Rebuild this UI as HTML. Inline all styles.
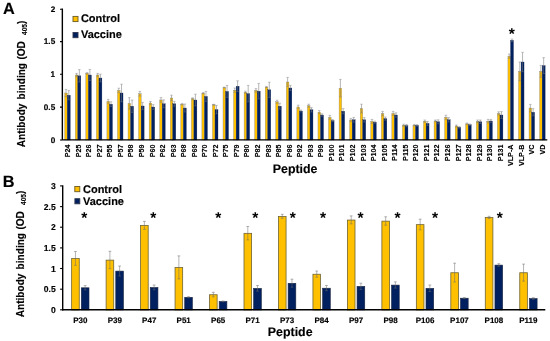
<!DOCTYPE html>
<html><head><meta charset="utf-8"><title>Figure</title>
<style>html,body{margin:0;padding:0;background:#fff}svg{display:block}text{font-family:'Liberation Sans',Arial,sans-serif;font-weight:bold;fill:#000;stroke:#000;stroke-width:0.15px}</style></head><body>
<svg width="550" height="341" viewBox="0 0 550 341">
<rect width="550" height="341" fill="#fff"/>
<g id="chartA">
<rect x="64.70" y="93.00" width="2.60" height="47.00" fill="#FFC000" stroke="#808080" stroke-width="0.35"/>
<rect x="67.30" y="95.20" width="2.95" height="44.80" fill="#002060" stroke="#1a2a50" stroke-width="0.3"/>
<path d="M66.00 89.40V96.60" stroke="#7a7a7a" stroke-width="1.0" stroke-opacity="0.55" fill="none"/><path d="M64.70 89.40h2.6M64.70 96.60h2.6" stroke="#7a7a7a" stroke-width="0.6" stroke-opacity="0.7" fill="none"/>
<path d="M68.77 90.60V99.80" stroke="#7a7a7a" stroke-width="1.0" stroke-opacity="0.55" fill="none"/><path d="M67.47 90.60h2.6M67.47 99.80h2.6" stroke="#7a7a7a" stroke-width="0.6" stroke-opacity="0.7" fill="none"/>
<text transform="translate(70.08 144.5) rotate(-90)" text-anchor="end" font-size="7.2">P24</text>
<rect x="75.25" y="75.00" width="2.60" height="65.00" fill="#FFC000" stroke="#808080" stroke-width="0.35"/>
<rect x="77.85" y="75.80" width="2.95" height="64.20" fill="#002060" stroke="#1a2a50" stroke-width="0.3"/>
<path d="M76.55 73.40V76.60" stroke="#7a7a7a" stroke-width="1.0" stroke-opacity="0.55" fill="none"/><path d="M75.25 73.40h2.6M75.25 76.60h2.6" stroke="#7a7a7a" stroke-width="0.6" stroke-opacity="0.7" fill="none"/>
<path d="M79.33 69.60V82.00" stroke="#7a7a7a" stroke-width="1.0" stroke-opacity="0.55" fill="none"/><path d="M78.03 69.60h2.6M78.03 82.00h2.6" stroke="#7a7a7a" stroke-width="0.6" stroke-opacity="0.7" fill="none"/>
<text transform="translate(80.63 144.5) rotate(-90)" text-anchor="end" font-size="7.2">P25</text>
<rect x="85.81" y="73.40" width="2.60" height="66.60" fill="#FFC000" stroke="#808080" stroke-width="0.35"/>
<rect x="88.41" y="75.00" width="2.95" height="65.00" fill="#002060" stroke="#1a2a50" stroke-width="0.3"/>
<path d="M87.11 72.60V74.20" stroke="#7a7a7a" stroke-width="1.0" stroke-opacity="0.55" fill="none"/><path d="M85.81 72.60h2.6M85.81 74.20h2.6" stroke="#7a7a7a" stroke-width="0.6" stroke-opacity="0.7" fill="none"/>
<path d="M89.88 69.40V80.60" stroke="#7a7a7a" stroke-width="1.0" stroke-opacity="0.55" fill="none"/><path d="M88.58 69.40h2.6M88.58 80.60h2.6" stroke="#7a7a7a" stroke-width="0.6" stroke-opacity="0.7" fill="none"/>
<text transform="translate(91.18 144.5) rotate(-90)" text-anchor="end" font-size="7.2">P26</text>
<rect x="96.36" y="75.00" width="2.60" height="65.00" fill="#FFC000" stroke="#808080" stroke-width="0.35"/>
<rect x="98.96" y="78.00" width="2.95" height="62.00" fill="#002060" stroke="#1a2a50" stroke-width="0.3"/>
<path d="M97.66 73.40V76.60" stroke="#7a7a7a" stroke-width="1.0" stroke-opacity="0.55" fill="none"/><path d="M96.36 73.40h2.6M96.36 76.60h2.6" stroke="#7a7a7a" stroke-width="0.6" stroke-opacity="0.7" fill="none"/>
<path d="M100.43 74.20V81.80" stroke="#7a7a7a" stroke-width="1.0" stroke-opacity="0.55" fill="none"/><path d="M99.13 74.20h2.6M99.13 81.80h2.6" stroke="#7a7a7a" stroke-width="0.6" stroke-opacity="0.7" fill="none"/>
<text transform="translate(101.73 144.5) rotate(-90)" text-anchor="end" font-size="7.2">P27</text>
<rect x="106.91" y="101.40" width="2.60" height="38.60" fill="#FFC000" stroke="#808080" stroke-width="0.35"/>
<rect x="109.51" y="104.20" width="2.95" height="35.80" fill="#002060" stroke="#1a2a50" stroke-width="0.3"/>
<path d="M108.21 99.40V103.40" stroke="#7a7a7a" stroke-width="1.0" stroke-opacity="0.55" fill="none"/><path d="M106.91 99.40h2.6M106.91 103.40h2.6" stroke="#7a7a7a" stroke-width="0.6" stroke-opacity="0.7" fill="none"/>
<path d="M110.99 101.80V106.60" stroke="#7a7a7a" stroke-width="1.0" stroke-opacity="0.55" fill="none"/><path d="M109.69 101.80h2.6M109.69 106.60h2.6" stroke="#7a7a7a" stroke-width="0.6" stroke-opacity="0.7" fill="none"/>
<text transform="translate(112.29 144.5) rotate(-90)" text-anchor="end" font-size="7.2">P55</text>
<rect x="117.47" y="90.40" width="2.60" height="49.60" fill="#FFC000" stroke="#808080" stroke-width="0.35"/>
<rect x="120.06" y="93.00" width="2.95" height="47.00" fill="#002060" stroke="#1a2a50" stroke-width="0.3"/>
<path d="M118.77 88.20V92.60" stroke="#7a7a7a" stroke-width="1.0" stroke-opacity="0.55" fill="none"/><path d="M117.47 88.20h2.6M117.47 92.60h2.6" stroke="#7a7a7a" stroke-width="0.6" stroke-opacity="0.7" fill="none"/>
<path d="M121.54 84.20V101.80" stroke="#7a7a7a" stroke-width="1.0" stroke-opacity="0.55" fill="none"/><path d="M120.24 84.20h2.6M120.24 101.80h2.6" stroke="#7a7a7a" stroke-width="0.6" stroke-opacity="0.7" fill="none"/>
<text transform="translate(122.84 144.5) rotate(-90)" text-anchor="end" font-size="7.2">P57</text>
<rect x="128.02" y="103.40" width="2.60" height="36.60" fill="#FFC000" stroke="#808080" stroke-width="0.35"/>
<rect x="130.62" y="106.20" width="2.95" height="33.80" fill="#002060" stroke="#1a2a50" stroke-width="0.3"/>
<path d="M129.32 97.60V109.20" stroke="#7a7a7a" stroke-width="1.0" stroke-opacity="0.55" fill="none"/><path d="M128.02 97.60h2.6M128.02 109.20h2.6" stroke="#7a7a7a" stroke-width="0.6" stroke-opacity="0.7" fill="none"/>
<path d="M132.09 100.00V112.40" stroke="#7a7a7a" stroke-width="1.0" stroke-opacity="0.55" fill="none"/><path d="M130.79 100.00h2.6M130.79 112.40h2.6" stroke="#7a7a7a" stroke-width="0.6" stroke-opacity="0.7" fill="none"/>
<text transform="translate(133.39 144.5) rotate(-90)" text-anchor="end" font-size="7.2">P58</text>
<rect x="138.57" y="93.80" width="2.60" height="46.20" fill="#FFC000" stroke="#808080" stroke-width="0.35"/>
<rect x="141.17" y="106.00" width="2.95" height="34.00" fill="#002060" stroke="#1a2a50" stroke-width="0.3"/>
<path d="M139.87 91.40V96.20" stroke="#7a7a7a" stroke-width="1.0" stroke-opacity="0.55" fill="none"/><path d="M138.57 91.40h2.6M138.57 96.20h2.6" stroke="#7a7a7a" stroke-width="0.6" stroke-opacity="0.7" fill="none"/>
<path d="M142.65 102.40V109.60" stroke="#7a7a7a" stroke-width="1.0" stroke-opacity="0.55" fill="none"/><path d="M141.35 102.40h2.6M141.35 109.60h2.6" stroke="#7a7a7a" stroke-width="0.6" stroke-opacity="0.7" fill="none"/>
<text transform="translate(143.95 144.5) rotate(-90)" text-anchor="end" font-size="7.2">P59</text>
<rect x="149.12" y="103.00" width="2.60" height="37.00" fill="#FFC000" stroke="#808080" stroke-width="0.35"/>
<rect x="151.72" y="107.00" width="2.95" height="33.00" fill="#002060" stroke="#1a2a50" stroke-width="0.3"/>
<path d="M150.42 101.40V104.60" stroke="#7a7a7a" stroke-width="1.0" stroke-opacity="0.55" fill="none"/><path d="M149.12 101.40h2.6M149.12 104.60h2.6" stroke="#7a7a7a" stroke-width="0.6" stroke-opacity="0.7" fill="none"/>
<path d="M153.20 104.60V109.40" stroke="#7a7a7a" stroke-width="1.0" stroke-opacity="0.55" fill="none"/><path d="M151.90 104.60h2.6M151.90 109.40h2.6" stroke="#7a7a7a" stroke-width="0.6" stroke-opacity="0.7" fill="none"/>
<text transform="translate(154.50 144.5) rotate(-90)" text-anchor="end" font-size="7.2">P60</text>
<rect x="159.68" y="100.00" width="2.60" height="40.00" fill="#FFC000" stroke="#808080" stroke-width="0.35"/>
<rect x="162.28" y="103.80" width="2.95" height="36.20" fill="#002060" stroke="#1a2a50" stroke-width="0.3"/>
<path d="M160.98 97.60V102.40" stroke="#7a7a7a" stroke-width="1.0" stroke-opacity="0.55" fill="none"/><path d="M159.68 97.60h2.6M159.68 102.40h2.6" stroke="#7a7a7a" stroke-width="0.6" stroke-opacity="0.7" fill="none"/>
<path d="M163.75 99.80V107.80" stroke="#7a7a7a" stroke-width="1.0" stroke-opacity="0.55" fill="none"/><path d="M162.45 99.80h2.6M162.45 107.80h2.6" stroke="#7a7a7a" stroke-width="0.6" stroke-opacity="0.7" fill="none"/>
<text transform="translate(165.05 144.5) rotate(-90)" text-anchor="end" font-size="7.2">P62</text>
<rect x="170.23" y="98.00" width="2.60" height="42.00" fill="#FFC000" stroke="#808080" stroke-width="0.35"/>
<rect x="172.83" y="103.80" width="2.95" height="36.20" fill="#002060" stroke="#1a2a50" stroke-width="0.3"/>
<path d="M171.53 95.20V100.80" stroke="#7a7a7a" stroke-width="1.0" stroke-opacity="0.55" fill="none"/><path d="M170.23 95.20h2.6M170.23 100.80h2.6" stroke="#7a7a7a" stroke-width="0.6" stroke-opacity="0.7" fill="none"/>
<path d="M174.31 101.40V106.20" stroke="#7a7a7a" stroke-width="1.0" stroke-opacity="0.55" fill="none"/><path d="M173.00 101.40h2.6M173.00 106.20h2.6" stroke="#7a7a7a" stroke-width="0.6" stroke-opacity="0.7" fill="none"/>
<text transform="translate(175.61 144.5) rotate(-90)" text-anchor="end" font-size="7.2">P63</text>
<rect x="180.78" y="104.20" width="2.60" height="35.80" fill="#FFC000" stroke="#808080" stroke-width="0.35"/>
<rect x="183.38" y="108.00" width="2.95" height="32.00" fill="#002060" stroke="#1a2a50" stroke-width="0.3"/>
<path d="M182.08 103.40V105.00" stroke="#7a7a7a" stroke-width="1.0" stroke-opacity="0.55" fill="none"/><path d="M180.78 103.40h2.6M180.78 105.00h2.6" stroke="#7a7a7a" stroke-width="0.6" stroke-opacity="0.7" fill="none"/>
<path d="M184.86 104.00V112.00" stroke="#7a7a7a" stroke-width="1.0" stroke-opacity="0.55" fill="none"/><path d="M183.56 104.00h2.6M183.56 112.00h2.6" stroke="#7a7a7a" stroke-width="0.6" stroke-opacity="0.7" fill="none"/>
<text transform="translate(186.16 144.5) rotate(-90)" text-anchor="end" font-size="7.2">P68</text>
<rect x="191.34" y="98.80" width="2.60" height="41.20" fill="#FFC000" stroke="#808080" stroke-width="0.35"/>
<rect x="193.94" y="100.00" width="2.95" height="40.00" fill="#002060" stroke="#1a2a50" stroke-width="0.3"/>
<path d="M192.64 97.80V99.80" stroke="#7a7a7a" stroke-width="1.0" stroke-opacity="0.55" fill="none"/><path d="M191.34 97.80h2.6M191.34 99.80h2.6" stroke="#7a7a7a" stroke-width="0.6" stroke-opacity="0.7" fill="none"/>
<path d="M195.41 94.20V105.80" stroke="#7a7a7a" stroke-width="1.0" stroke-opacity="0.55" fill="none"/><path d="M194.11 94.20h2.6M194.11 105.80h2.6" stroke="#7a7a7a" stroke-width="0.6" stroke-opacity="0.7" fill="none"/>
<text transform="translate(196.71 144.5) rotate(-90)" text-anchor="end" font-size="7.2">P69</text>
<rect x="201.89" y="93.20" width="2.60" height="46.80" fill="#FFC000" stroke="#808080" stroke-width="0.35"/>
<rect x="204.49" y="96.40" width="2.95" height="43.60" fill="#002060" stroke="#1a2a50" stroke-width="0.3"/>
<path d="M203.19 92.50V93.90" stroke="#7a7a7a" stroke-width="1.0" stroke-opacity="0.55" fill="none"/><path d="M201.89 92.50h2.6M201.89 93.90h2.6" stroke="#7a7a7a" stroke-width="0.6" stroke-opacity="0.7" fill="none"/>
<path d="M205.96 91.40V101.40" stroke="#7a7a7a" stroke-width="1.0" stroke-opacity="0.55" fill="none"/><path d="M204.66 91.40h2.6M204.66 101.40h2.6" stroke="#7a7a7a" stroke-width="0.6" stroke-opacity="0.7" fill="none"/>
<text transform="translate(207.26 144.5) rotate(-90)" text-anchor="end" font-size="7.2">P70</text>
<rect x="212.44" y="104.80" width="2.60" height="35.20" fill="#FFC000" stroke="#808080" stroke-width="0.35"/>
<rect x="215.04" y="109.60" width="2.95" height="30.40" fill="#002060" stroke="#1a2a50" stroke-width="0.3"/>
<path d="M213.74 104.30V105.30" stroke="#7a7a7a" stroke-width="1.0" stroke-opacity="0.55" fill="none"/><path d="M212.44 104.30h2.6M212.44 105.30h2.6" stroke="#7a7a7a" stroke-width="0.6" stroke-opacity="0.7" fill="none"/>
<path d="M216.52 105.40V113.80" stroke="#7a7a7a" stroke-width="1.0" stroke-opacity="0.55" fill="none"/><path d="M215.22 105.40h2.6M215.22 113.80h2.6" stroke="#7a7a7a" stroke-width="0.6" stroke-opacity="0.7" fill="none"/>
<text transform="translate(217.82 144.5) rotate(-90)" text-anchor="end" font-size="7.2">P72</text>
<rect x="223.00" y="87.60" width="2.60" height="52.40" fill="#FFC000" stroke="#808080" stroke-width="0.35"/>
<rect x="225.59" y="91.40" width="2.95" height="48.60" fill="#002060" stroke="#1a2a50" stroke-width="0.3"/>
<path d="M224.30 87.20V88.00" stroke="#7a7a7a" stroke-width="1.0" stroke-opacity="0.55" fill="none"/><path d="M223.00 87.20h2.6M223.00 88.00h2.6" stroke="#7a7a7a" stroke-width="0.6" stroke-opacity="0.7" fill="none"/>
<path d="M227.07 85.40V97.40" stroke="#7a7a7a" stroke-width="1.0" stroke-opacity="0.55" fill="none"/><path d="M225.77 85.40h2.6M225.77 97.40h2.6" stroke="#7a7a7a" stroke-width="0.6" stroke-opacity="0.7" fill="none"/>
<text transform="translate(228.37 144.5) rotate(-90)" text-anchor="end" font-size="7.2">P75</text>
<rect x="233.55" y="90.20" width="2.60" height="49.80" fill="#FFC000" stroke="#808080" stroke-width="0.35"/>
<rect x="236.15" y="86.20" width="2.95" height="53.80" fill="#002060" stroke="#1a2a50" stroke-width="0.3"/>
<path d="M234.85 88.00V92.40" stroke="#7a7a7a" stroke-width="1.0" stroke-opacity="0.55" fill="none"/><path d="M233.55 88.00h2.6M233.55 92.40h2.6" stroke="#7a7a7a" stroke-width="0.6" stroke-opacity="0.7" fill="none"/>
<path d="M237.62 80.80V91.60" stroke="#7a7a7a" stroke-width="1.0" stroke-opacity="0.55" fill="none"/><path d="M236.32 80.80h2.6M236.32 91.60h2.6" stroke="#7a7a7a" stroke-width="0.6" stroke-opacity="0.7" fill="none"/>
<text transform="translate(238.92 144.5) rotate(-90)" text-anchor="end" font-size="7.2">P79</text>
<rect x="244.10" y="92.20" width="2.60" height="47.80" fill="#FFC000" stroke="#808080" stroke-width="0.35"/>
<rect x="246.70" y="93.60" width="2.95" height="46.40" fill="#002060" stroke="#1a2a50" stroke-width="0.3"/>
<path d="M245.40 91.20V93.20" stroke="#7a7a7a" stroke-width="1.0" stroke-opacity="0.55" fill="none"/><path d="M244.10 91.20h2.6M244.10 93.20h2.6" stroke="#7a7a7a" stroke-width="0.6" stroke-opacity="0.7" fill="none"/>
<path d="M248.18 85.40V101.80" stroke="#7a7a7a" stroke-width="1.0" stroke-opacity="0.55" fill="none"/><path d="M246.88 85.40h2.6M246.88 101.80h2.6" stroke="#7a7a7a" stroke-width="0.6" stroke-opacity="0.7" fill="none"/>
<text transform="translate(249.48 144.5) rotate(-90)" text-anchor="end" font-size="7.2">P80</text>
<rect x="254.65" y="90.40" width="2.60" height="49.60" fill="#FFC000" stroke="#808080" stroke-width="0.35"/>
<rect x="257.25" y="91.20" width="2.95" height="48.80" fill="#002060" stroke="#1a2a50" stroke-width="0.3"/>
<path d="M255.95 88.60V92.20" stroke="#7a7a7a" stroke-width="1.0" stroke-opacity="0.55" fill="none"/><path d="M254.65 88.60h2.6M254.65 92.20h2.6" stroke="#7a7a7a" stroke-width="0.6" stroke-opacity="0.7" fill="none"/>
<path d="M258.73 83.40V99.00" stroke="#7a7a7a" stroke-width="1.0" stroke-opacity="0.55" fill="none"/><path d="M257.43 83.40h2.6M257.43 99.00h2.6" stroke="#7a7a7a" stroke-width="0.6" stroke-opacity="0.7" fill="none"/>
<text transform="translate(260.03 144.5) rotate(-90)" text-anchor="end" font-size="7.2">P82</text>
<rect x="265.21" y="87.00" width="2.60" height="53.00" fill="#FFC000" stroke="#808080" stroke-width="0.35"/>
<rect x="267.81" y="89.80" width="2.95" height="50.20" fill="#002060" stroke="#1a2a50" stroke-width="0.3"/>
<path d="M266.51 86.40V87.60" stroke="#7a7a7a" stroke-width="1.0" stroke-opacity="0.55" fill="none"/><path d="M265.21 86.40h2.6M265.21 87.60h2.6" stroke="#7a7a7a" stroke-width="0.6" stroke-opacity="0.7" fill="none"/>
<path d="M269.28 82.20V97.40" stroke="#7a7a7a" stroke-width="1.0" stroke-opacity="0.55" fill="none"/><path d="M267.98 82.20h2.6M267.98 97.40h2.6" stroke="#7a7a7a" stroke-width="0.6" stroke-opacity="0.7" fill="none"/>
<text transform="translate(270.58 144.5) rotate(-90)" text-anchor="end" font-size="7.2">P83</text>
<rect x="275.76" y="101.80" width="2.60" height="38.20" fill="#FFC000" stroke="#808080" stroke-width="0.35"/>
<rect x="278.36" y="106.20" width="2.95" height="33.80" fill="#002060" stroke="#1a2a50" stroke-width="0.3"/>
<path d="M277.06 100.20V103.40" stroke="#7a7a7a" stroke-width="1.0" stroke-opacity="0.55" fill="none"/><path d="M275.76 100.20h2.6M275.76 103.40h2.6" stroke="#7a7a7a" stroke-width="0.6" stroke-opacity="0.7" fill="none"/>
<path d="M279.84 103.20V109.20" stroke="#7a7a7a" stroke-width="1.0" stroke-opacity="0.55" fill="none"/><path d="M278.54 103.20h2.6M278.54 109.20h2.6" stroke="#7a7a7a" stroke-width="0.6" stroke-opacity="0.7" fill="none"/>
<text transform="translate(281.13 144.5) rotate(-90)" text-anchor="end" font-size="7.2">P85</text>
<rect x="286.31" y="82.00" width="2.60" height="58.00" fill="#FFC000" stroke="#808080" stroke-width="0.35"/>
<rect x="288.91" y="88.00" width="2.95" height="52.00" fill="#002060" stroke="#1a2a50" stroke-width="0.3"/>
<path d="M287.61 77.40V86.60" stroke="#7a7a7a" stroke-width="1.0" stroke-opacity="0.55" fill="none"/><path d="M286.31 77.40h2.6M286.31 86.60h2.6" stroke="#7a7a7a" stroke-width="0.6" stroke-opacity="0.7" fill="none"/>
<path d="M290.39 85.40V90.60" stroke="#7a7a7a" stroke-width="1.0" stroke-opacity="0.55" fill="none"/><path d="M289.09 85.40h2.6M289.09 90.60h2.6" stroke="#7a7a7a" stroke-width="0.6" stroke-opacity="0.7" fill="none"/>
<text transform="translate(291.69 144.5) rotate(-90)" text-anchor="end" font-size="7.2">P86</text>
<rect x="296.87" y="107.00" width="2.60" height="33.00" fill="#FFC000" stroke="#808080" stroke-width="0.35"/>
<rect x="299.47" y="111.00" width="2.95" height="29.00" fill="#002060" stroke="#1a2a50" stroke-width="0.3"/>
<path d="M298.17 105.20V108.80" stroke="#7a7a7a" stroke-width="1.0" stroke-opacity="0.55" fill="none"/><path d="M296.87 105.20h2.6M296.87 108.80h2.6" stroke="#7a7a7a" stroke-width="0.6" stroke-opacity="0.7" fill="none"/>
<path d="M300.94 110.00V112.00" stroke="#7a7a7a" stroke-width="1.0" stroke-opacity="0.55" fill="none"/><path d="M299.64 110.00h2.6M299.64 112.00h2.6" stroke="#7a7a7a" stroke-width="0.6" stroke-opacity="0.7" fill="none"/>
<text transform="translate(302.24 144.5) rotate(-90)" text-anchor="end" font-size="7.2">P92</text>
<rect x="307.42" y="105.80" width="2.60" height="34.20" fill="#FFC000" stroke="#808080" stroke-width="0.35"/>
<rect x="310.02" y="109.80" width="2.95" height="30.20" fill="#002060" stroke="#1a2a50" stroke-width="0.3"/>
<path d="M308.72 104.20V107.40" stroke="#7a7a7a" stroke-width="1.0" stroke-opacity="0.55" fill="none"/><path d="M307.42 104.20h2.6M307.42 107.40h2.6" stroke="#7a7a7a" stroke-width="0.6" stroke-opacity="0.7" fill="none"/>
<path d="M311.49 107.60V112.00" stroke="#7a7a7a" stroke-width="1.0" stroke-opacity="0.55" fill="none"/><path d="M310.19 107.60h2.6M310.19 112.00h2.6" stroke="#7a7a7a" stroke-width="0.6" stroke-opacity="0.7" fill="none"/>
<text transform="translate(312.79 144.5) rotate(-90)" text-anchor="end" font-size="7.2">P93</text>
<rect x="317.97" y="112.20" width="2.60" height="27.80" fill="#FFC000" stroke="#808080" stroke-width="0.35"/>
<rect x="320.57" y="115.00" width="2.95" height="25.00" fill="#002060" stroke="#1a2a50" stroke-width="0.3"/>
<path d="M319.27 110.60V113.80" stroke="#7a7a7a" stroke-width="1.0" stroke-opacity="0.55" fill="none"/><path d="M317.97 110.60h2.6M317.97 113.80h2.6" stroke="#7a7a7a" stroke-width="0.6" stroke-opacity="0.7" fill="none"/>
<path d="M322.05 113.80V116.20" stroke="#7a7a7a" stroke-width="1.0" stroke-opacity="0.55" fill="none"/><path d="M320.75 113.80h2.6M320.75 116.20h2.6" stroke="#7a7a7a" stroke-width="0.6" stroke-opacity="0.7" fill="none"/>
<text transform="translate(323.35 144.5) rotate(-90)" text-anchor="end" font-size="7.2">P99</text>
<rect x="328.53" y="117.40" width="2.60" height="22.60" fill="#FFC000" stroke="#808080" stroke-width="0.35"/>
<rect x="331.13" y="120.60" width="2.95" height="19.40" fill="#002060" stroke="#1a2a50" stroke-width="0.3"/>
<path d="M329.83 115.40V119.40" stroke="#7a7a7a" stroke-width="1.0" stroke-opacity="0.55" fill="none"/><path d="M328.53 115.40h2.6M328.53 119.40h2.6" stroke="#7a7a7a" stroke-width="0.6" stroke-opacity="0.7" fill="none"/>
<path d="M332.60 119.60V121.60" stroke="#7a7a7a" stroke-width="1.0" stroke-opacity="0.55" fill="none"/><path d="M331.30 119.60h2.6M331.30 121.60h2.6" stroke="#7a7a7a" stroke-width="0.6" stroke-opacity="0.7" fill="none"/>
<text transform="translate(333.90 144.5) rotate(-90)" text-anchor="end" font-size="7.2">P100</text>
<rect x="339.08" y="88.20" width="2.60" height="51.80" fill="#FFC000" stroke="#808080" stroke-width="0.35"/>
<rect x="341.68" y="111.20" width="2.95" height="28.80" fill="#002060" stroke="#1a2a50" stroke-width="0.3"/>
<path d="M340.38 79.40V97.00" stroke="#7a7a7a" stroke-width="1.0" stroke-opacity="0.55" fill="none"/><path d="M339.08 79.40h2.6M339.08 97.00h2.6" stroke="#7a7a7a" stroke-width="0.6" stroke-opacity="0.7" fill="none"/>
<path d="M343.15 108.60V113.80" stroke="#7a7a7a" stroke-width="1.0" stroke-opacity="0.55" fill="none"/><path d="M341.85 108.60h2.6M341.85 113.80h2.6" stroke="#7a7a7a" stroke-width="0.6" stroke-opacity="0.7" fill="none"/>
<text transform="translate(344.45 144.5) rotate(-90)" text-anchor="end" font-size="7.2">P101</text>
<rect x="349.63" y="120.00" width="2.60" height="20.00" fill="#FFC000" stroke="#808080" stroke-width="0.35"/>
<rect x="352.23" y="119.80" width="2.95" height="20.20" fill="#002060" stroke="#1a2a50" stroke-width="0.3"/>
<path d="M350.93 118.40V121.60" stroke="#7a7a7a" stroke-width="1.0" stroke-opacity="0.55" fill="none"/><path d="M349.63 118.40h2.6M349.63 121.60h2.6" stroke="#7a7a7a" stroke-width="0.6" stroke-opacity="0.7" fill="none"/>
<path d="M353.71 117.40V122.20" stroke="#7a7a7a" stroke-width="1.0" stroke-opacity="0.55" fill="none"/><path d="M352.41 117.40h2.6M352.41 122.20h2.6" stroke="#7a7a7a" stroke-width="0.6" stroke-opacity="0.7" fill="none"/>
<text transform="translate(355.01 144.5) rotate(-90)" text-anchor="end" font-size="7.2">P102</text>
<rect x="360.18" y="108.60" width="2.60" height="31.40" fill="#FFC000" stroke="#808080" stroke-width="0.35"/>
<rect x="362.78" y="119.80" width="2.95" height="20.20" fill="#002060" stroke="#1a2a50" stroke-width="0.3"/>
<path d="M361.48 104.20V113.00" stroke="#7a7a7a" stroke-width="1.0" stroke-opacity="0.55" fill="none"/><path d="M360.18 104.20h2.6M360.18 113.00h2.6" stroke="#7a7a7a" stroke-width="0.6" stroke-opacity="0.7" fill="none"/>
<path d="M364.26 117.60V122.00" stroke="#7a7a7a" stroke-width="1.0" stroke-opacity="0.55" fill="none"/><path d="M362.96 117.60h2.6M362.96 122.00h2.6" stroke="#7a7a7a" stroke-width="0.6" stroke-opacity="0.7" fill="none"/>
<text transform="translate(365.56 144.5) rotate(-90)" text-anchor="end" font-size="7.2">P103</text>
<rect x="370.74" y="121.40" width="2.60" height="18.60" fill="#FFC000" stroke="#808080" stroke-width="0.35"/>
<rect x="373.34" y="122.20" width="2.95" height="17.80" fill="#002060" stroke="#1a2a50" stroke-width="0.3"/>
<path d="M372.04 119.40V123.40" stroke="#7a7a7a" stroke-width="1.0" stroke-opacity="0.55" fill="none"/><path d="M370.74 119.40h2.6M370.74 123.40h2.6" stroke="#7a7a7a" stroke-width="0.6" stroke-opacity="0.7" fill="none"/>
<path d="M374.81 121.20V123.20" stroke="#7a7a7a" stroke-width="1.0" stroke-opacity="0.55" fill="none"/><path d="M373.51 121.20h2.6M373.51 123.20h2.6" stroke="#7a7a7a" stroke-width="0.6" stroke-opacity="0.7" fill="none"/>
<text transform="translate(376.11 144.5) rotate(-90)" text-anchor="end" font-size="7.2">P104</text>
<rect x="381.29" y="113.60" width="2.60" height="26.40" fill="#FFC000" stroke="#808080" stroke-width="0.35"/>
<rect x="383.89" y="118.60" width="2.95" height="21.40" fill="#002060" stroke="#1a2a50" stroke-width="0.3"/>
<path d="M382.59 111.40V115.80" stroke="#7a7a7a" stroke-width="1.0" stroke-opacity="0.55" fill="none"/><path d="M381.29 111.40h2.6M381.29 115.80h2.6" stroke="#7a7a7a" stroke-width="0.6" stroke-opacity="0.7" fill="none"/>
<path d="M385.37 117.00V120.20" stroke="#7a7a7a" stroke-width="1.0" stroke-opacity="0.55" fill="none"/><path d="M384.07 117.00h2.6M384.07 120.20h2.6" stroke="#7a7a7a" stroke-width="0.6" stroke-opacity="0.7" fill="none"/>
<text transform="translate(386.67 144.5) rotate(-90)" text-anchor="end" font-size="7.2">P105</text>
<rect x="391.84" y="113.40" width="2.60" height="26.60" fill="#FFC000" stroke="#808080" stroke-width="0.35"/>
<rect x="394.44" y="115.00" width="2.95" height="25.00" fill="#002060" stroke="#1a2a50" stroke-width="0.3"/>
<path d="M393.14 111.40V115.40" stroke="#7a7a7a" stroke-width="1.0" stroke-opacity="0.55" fill="none"/><path d="M391.84 111.40h2.6M391.84 115.40h2.6" stroke="#7a7a7a" stroke-width="0.6" stroke-opacity="0.7" fill="none"/>
<path d="M395.92 112.80V117.20" stroke="#7a7a7a" stroke-width="1.0" stroke-opacity="0.55" fill="none"/><path d="M394.62 112.80h2.6M394.62 117.20h2.6" stroke="#7a7a7a" stroke-width="0.6" stroke-opacity="0.7" fill="none"/>
<text transform="translate(397.22 144.5) rotate(-90)" text-anchor="end" font-size="7.2">P114</text>
<rect x="402.40" y="125.20" width="2.60" height="14.80" fill="#FFC000" stroke="#808080" stroke-width="0.35"/>
<rect x="405.00" y="125.60" width="2.95" height="14.40" fill="#002060" stroke="#1a2a50" stroke-width="0.3"/>
<path d="M403.70 124.20V126.20" stroke="#7a7a7a" stroke-width="1.0" stroke-opacity="0.55" fill="none"/><path d="M402.40 124.20h2.6M402.40 126.20h2.6" stroke="#7a7a7a" stroke-width="0.6" stroke-opacity="0.7" fill="none"/>
<path d="M406.47 124.40V126.80" stroke="#7a7a7a" stroke-width="1.0" stroke-opacity="0.55" fill="none"/><path d="M405.17 124.40h2.6M405.17 126.80h2.6" stroke="#7a7a7a" stroke-width="0.6" stroke-opacity="0.7" fill="none"/>
<text transform="translate(407.77 144.5) rotate(-90)" text-anchor="end" font-size="7.2">P115</text>
<rect x="412.95" y="125.20" width="2.60" height="14.80" fill="#FFC000" stroke="#808080" stroke-width="0.35"/>
<rect x="415.55" y="125.40" width="2.95" height="14.60" fill="#002060" stroke="#1a2a50" stroke-width="0.3"/>
<path d="M414.25 124.40V126.00" stroke="#7a7a7a" stroke-width="1.0" stroke-opacity="0.55" fill="none"/><path d="M412.95 124.40h2.6M412.95 126.00h2.6" stroke="#7a7a7a" stroke-width="0.6" stroke-opacity="0.7" fill="none"/>
<path d="M417.02 124.60V126.20" stroke="#7a7a7a" stroke-width="1.0" stroke-opacity="0.55" fill="none"/><path d="M415.72 124.60h2.6M415.72 126.20h2.6" stroke="#7a7a7a" stroke-width="0.6" stroke-opacity="0.7" fill="none"/>
<text transform="translate(418.32 144.5) rotate(-90)" text-anchor="end" font-size="7.2">P120</text>
<rect x="423.50" y="121.20" width="2.60" height="18.80" fill="#FFC000" stroke="#808080" stroke-width="0.35"/>
<rect x="426.10" y="123.40" width="2.95" height="16.60" fill="#002060" stroke="#1a2a50" stroke-width="0.3"/>
<path d="M424.80 120.00V122.40" stroke="#7a7a7a" stroke-width="1.0" stroke-opacity="0.55" fill="none"/><path d="M423.50 120.00h2.6M423.50 122.40h2.6" stroke="#7a7a7a" stroke-width="0.6" stroke-opacity="0.7" fill="none"/>
<path d="M427.58 121.40V125.40" stroke="#7a7a7a" stroke-width="1.0" stroke-opacity="0.55" fill="none"/><path d="M426.28 121.40h2.6M426.28 125.40h2.6" stroke="#7a7a7a" stroke-width="0.6" stroke-opacity="0.7" fill="none"/>
<text transform="translate(428.88 144.5) rotate(-90)" text-anchor="end" font-size="7.2">P121</text>
<rect x="434.06" y="121.00" width="2.60" height="19.00" fill="#FFC000" stroke="#808080" stroke-width="0.35"/>
<rect x="436.66" y="121.80" width="2.95" height="18.20" fill="#002060" stroke="#1a2a50" stroke-width="0.3"/>
<path d="M435.36 120.00V122.00" stroke="#7a7a7a" stroke-width="1.0" stroke-opacity="0.55" fill="none"/><path d="M434.06 120.00h2.6M434.06 122.00h2.6" stroke="#7a7a7a" stroke-width="0.6" stroke-opacity="0.7" fill="none"/>
<path d="M438.13 119.80V123.80" stroke="#7a7a7a" stroke-width="1.0" stroke-opacity="0.55" fill="none"/><path d="M436.83 119.80h2.6M436.83 123.80h2.6" stroke="#7a7a7a" stroke-width="0.6" stroke-opacity="0.7" fill="none"/>
<text transform="translate(439.43 144.5) rotate(-90)" text-anchor="end" font-size="7.2">P122</text>
<rect x="444.61" y="117.40" width="2.60" height="22.60" fill="#FFC000" stroke="#808080" stroke-width="0.35"/>
<rect x="447.21" y="119.80" width="2.95" height="20.20" fill="#002060" stroke="#1a2a50" stroke-width="0.3"/>
<path d="M445.91 115.20V119.60" stroke="#7a7a7a" stroke-width="1.0" stroke-opacity="0.55" fill="none"/><path d="M444.61 115.20h2.6M444.61 119.60h2.6" stroke="#7a7a7a" stroke-width="0.6" stroke-opacity="0.7" fill="none"/>
<path d="M448.68 117.60V122.00" stroke="#7a7a7a" stroke-width="1.0" stroke-opacity="0.55" fill="none"/><path d="M447.38 117.60h2.6M447.38 122.00h2.6" stroke="#7a7a7a" stroke-width="0.6" stroke-opacity="0.7" fill="none"/>
<text transform="translate(449.98 144.5) rotate(-90)" text-anchor="end" font-size="7.2">P126</text>
<rect x="455.16" y="126.00" width="2.60" height="14.00" fill="#FFC000" stroke="#808080" stroke-width="0.35"/>
<rect x="457.76" y="127.30" width="2.95" height="12.70" fill="#002060" stroke="#1a2a50" stroke-width="0.3"/>
<path d="M456.46 125.00V127.00" stroke="#7a7a7a" stroke-width="1.0" stroke-opacity="0.55" fill="none"/><path d="M455.16 125.00h2.6M455.16 127.00h2.6" stroke="#7a7a7a" stroke-width="0.6" stroke-opacity="0.7" fill="none"/>
<path d="M459.24 126.50V128.10" stroke="#7a7a7a" stroke-width="1.0" stroke-opacity="0.55" fill="none"/><path d="M457.94 126.50h2.6M457.94 128.10h2.6" stroke="#7a7a7a" stroke-width="0.6" stroke-opacity="0.7" fill="none"/>
<text transform="translate(460.54 144.5) rotate(-90)" text-anchor="end" font-size="7.2">P127</text>
<rect x="465.71" y="123.90" width="2.60" height="16.10" fill="#FFC000" stroke="#808080" stroke-width="0.35"/>
<rect x="468.31" y="124.80" width="2.95" height="15.20" fill="#002060" stroke="#1a2a50" stroke-width="0.3"/>
<path d="M467.01 123.00V124.80" stroke="#7a7a7a" stroke-width="1.0" stroke-opacity="0.55" fill="none"/><path d="M465.71 123.00h2.6M465.71 124.80h2.6" stroke="#7a7a7a" stroke-width="0.6" stroke-opacity="0.7" fill="none"/>
<path d="M469.79 124.00V125.60" stroke="#7a7a7a" stroke-width="1.0" stroke-opacity="0.55" fill="none"/><path d="M468.49 124.00h2.6M468.49 125.60h2.6" stroke="#7a7a7a" stroke-width="0.6" stroke-opacity="0.7" fill="none"/>
<text transform="translate(471.09 144.5) rotate(-90)" text-anchor="end" font-size="7.2">P128</text>
<rect x="476.27" y="121.40" width="2.60" height="18.60" fill="#FFC000" stroke="#808080" stroke-width="0.35"/>
<rect x="478.87" y="121.80" width="2.95" height="18.20" fill="#002060" stroke="#1a2a50" stroke-width="0.3"/>
<path d="M477.57 120.00V122.80" stroke="#7a7a7a" stroke-width="1.0" stroke-opacity="0.55" fill="none"/><path d="M476.27 120.00h2.6M476.27 122.80h2.6" stroke="#7a7a7a" stroke-width="0.6" stroke-opacity="0.7" fill="none"/>
<path d="M480.34 120.00V123.60" stroke="#7a7a7a" stroke-width="1.0" stroke-opacity="0.55" fill="none"/><path d="M479.04 120.00h2.6M479.04 123.60h2.6" stroke="#7a7a7a" stroke-width="0.6" stroke-opacity="0.7" fill="none"/>
<text transform="translate(481.64 144.5) rotate(-90)" text-anchor="end" font-size="7.2">P129</text>
<rect x="486.82" y="121.20" width="2.60" height="18.80" fill="#FFC000" stroke="#808080" stroke-width="0.35"/>
<rect x="489.42" y="121.00" width="2.95" height="19.00" fill="#002060" stroke="#1a2a50" stroke-width="0.3"/>
<path d="M488.12 119.40V123.00" stroke="#7a7a7a" stroke-width="1.0" stroke-opacity="0.55" fill="none"/><path d="M486.82 119.40h2.6M486.82 123.00h2.6" stroke="#7a7a7a" stroke-width="0.6" stroke-opacity="0.7" fill="none"/>
<path d="M490.90 119.40V122.60" stroke="#7a7a7a" stroke-width="1.0" stroke-opacity="0.55" fill="none"/><path d="M489.60 119.40h2.6M489.60 122.60h2.6" stroke="#7a7a7a" stroke-width="0.6" stroke-opacity="0.7" fill="none"/>
<text transform="translate(492.19 144.5) rotate(-90)" text-anchor="end" font-size="7.2">P130</text>
<rect x="497.37" y="113.40" width="2.60" height="26.60" fill="#FFC000" stroke="#808080" stroke-width="0.35"/>
<rect x="499.97" y="115.00" width="2.95" height="25.00" fill="#002060" stroke="#1a2a50" stroke-width="0.3"/>
<path d="M498.67 111.80V115.00" stroke="#7a7a7a" stroke-width="1.0" stroke-opacity="0.55" fill="none"/><path d="M497.37 111.80h2.6M497.37 115.00h2.6" stroke="#7a7a7a" stroke-width="0.6" stroke-opacity="0.7" fill="none"/>
<path d="M501.45 111.60V118.40" stroke="#7a7a7a" stroke-width="1.0" stroke-opacity="0.55" fill="none"/><path d="M500.15 111.60h2.6M500.15 118.40h2.6" stroke="#7a7a7a" stroke-width="0.6" stroke-opacity="0.7" fill="none"/>
<text transform="translate(502.75 144.5) rotate(-90)" text-anchor="end" font-size="7.2">P131</text>
<rect x="507.93" y="56.20" width="2.60" height="83.80" fill="#FFC000" stroke="#808080" stroke-width="0.35"/>
<rect x="510.53" y="40.30" width="2.95" height="99.70" fill="#002060" stroke="#1a2a50" stroke-width="0.3"/>
<path d="M509.23 54.00V58.40" stroke="#7a7a7a" stroke-width="1.0" stroke-opacity="0.55" fill="none"/><path d="M507.93 54.00h2.6M507.93 58.40h2.6" stroke="#7a7a7a" stroke-width="0.6" stroke-opacity="0.7" fill="none"/>
<path d="M512.00 39.00V41.60" stroke="#7a7a7a" stroke-width="1.0" stroke-opacity="0.55" fill="none"/><path d="M510.70 39.00h2.6M510.70 41.60h2.6" stroke="#7a7a7a" stroke-width="0.6" stroke-opacity="0.7" fill="none"/>
<text transform="translate(513.30 144.5) rotate(-90)" text-anchor="end" font-size="7.2">VLP-A</text>
<rect x="518.48" y="71.40" width="2.60" height="68.60" fill="#FFC000" stroke="#808080" stroke-width="0.35"/>
<rect x="521.08" y="62.00" width="2.95" height="78.00" fill="#002060" stroke="#1a2a50" stroke-width="0.3"/>
<path d="M519.78 62.00V80.80" stroke="#7a7a7a" stroke-width="1.0" stroke-opacity="0.55" fill="none"/><path d="M518.48 62.00h2.6M518.48 80.80h2.6" stroke="#7a7a7a" stroke-width="0.6" stroke-opacity="0.7" fill="none"/>
<path d="M522.55 52.30V71.70" stroke="#7a7a7a" stroke-width="1.0" stroke-opacity="0.55" fill="none"/><path d="M521.25 52.30h2.6M521.25 71.70h2.6" stroke="#7a7a7a" stroke-width="0.6" stroke-opacity="0.7" fill="none"/>
<text transform="translate(523.85 144.5) rotate(-90)" text-anchor="end" font-size="7.2">VLP-B</text>
<rect x="529.03" y="108.00" width="2.60" height="32.00" fill="#FFC000" stroke="#808080" stroke-width="0.35"/>
<rect x="531.63" y="112.20" width="2.95" height="27.80" fill="#002060" stroke="#1a2a50" stroke-width="0.3"/>
<path d="M530.33 104.40V111.60" stroke="#7a7a7a" stroke-width="1.0" stroke-opacity="0.55" fill="none"/><path d="M529.03 104.40h2.6M529.03 111.60h2.6" stroke="#7a7a7a" stroke-width="0.6" stroke-opacity="0.7" fill="none"/>
<path d="M533.11 108.60V115.80" stroke="#7a7a7a" stroke-width="1.0" stroke-opacity="0.55" fill="none"/><path d="M531.81 108.60h2.6M531.81 115.80h2.6" stroke="#7a7a7a" stroke-width="0.6" stroke-opacity="0.7" fill="none"/>
<text transform="translate(534.41 144.5) rotate(-90)" text-anchor="end" font-size="7.2">VC</text>
<rect x="539.59" y="71.40" width="2.60" height="68.60" fill="#FFC000" stroke="#808080" stroke-width="0.35"/>
<rect x="542.19" y="65.60" width="2.95" height="74.40" fill="#002060" stroke="#1a2a50" stroke-width="0.3"/>
<path d="M540.88 65.40V77.40" stroke="#7a7a7a" stroke-width="1.0" stroke-opacity="0.55" fill="none"/><path d="M539.59 65.40h2.6M539.59 77.40h2.6" stroke="#7a7a7a" stroke-width="0.6" stroke-opacity="0.7" fill="none"/>
<path d="M543.66 57.60V73.60" stroke="#7a7a7a" stroke-width="1.0" stroke-opacity="0.55" fill="none"/><path d="M542.36 57.60h2.6M542.36 73.60h2.6" stroke="#7a7a7a" stroke-width="0.6" stroke-opacity="0.7" fill="none"/>
<text transform="translate(544.96 144.5) rotate(-90)" text-anchor="end" font-size="7.2">VD</text>
<path d="M62.35 8.6V140.6M61.7 139.9H547.3" stroke="#000" stroke-width="1.4" fill="none"/>
<path d="M60.0 9.2H62" stroke="#000" stroke-width="1.1"/>
<text transform="matrix(1 0 0.001 1 0 0)" x="55.19" y="12.00" text-anchor="end" font-size="8.2">2</text>
<path d="M60.0 41.6H62" stroke="#000" stroke-width="1.1"/>
<text transform="matrix(1 0 0.001 1 0 0)" x="55.16" y="44.40" text-anchor="end" font-size="8.2">1.5</text>
<path d="M60.0 74.3H62" stroke="#000" stroke-width="1.1"/>
<text transform="matrix(1 0 0.001 1 0 0)" x="55.12" y="77.10" text-anchor="end" font-size="8.2">1</text>
<path d="M60.0 107.1H62" stroke="#000" stroke-width="1.1"/>
<text transform="matrix(1 0 0.001 1 0 0)" x="55.09" y="109.90" text-anchor="end" font-size="8.2">0.5</text>
<path d="M60.0 140.0H62" stroke="#000" stroke-width="1.1"/>
<text transform="matrix(1 0 0.001 1 0 0)" x="55.06" y="142.80" text-anchor="end" font-size="8.2">0</text>
<text transform="matrix(1 0 0.001 1 0 0)" x="2.89" y="14.30" font-size="16.3">A</text>
<text transform="translate(24.70 147.30) rotate(-90)" font-size="10.1">Antibody</text>
<text transform="translate(24.70 99.40) rotate(-90)" font-size="10.1">binding</text>
<text transform="translate(24.70 59.60) rotate(-90)" font-size="10.1">(OD</text>
<text transform="translate(26.60 34.90) rotate(-90)" font-size="6.5">405</text>
<text transform="translate(24.70 24.00) rotate(-90)" font-size="10.1">)</text>
<rect x="73.0" y="16.4" width="5.0" height="5.2" fill="#FFC000" stroke="#6a5a25" stroke-width="0.9"/>
<rect x="73.0" y="32.5" width="5.0" height="5.2" fill="#002060" stroke="#30364a" stroke-width="0.9"/>
<text transform="matrix(1 0 0.001 1 0 0)" x="80.88" y="22.30" font-size="11">Control</text>
<text transform="matrix(1 0 0.001 1 0 0)" x="80.86" y="38.30" font-size="11">Vaccine</text>
<text transform="matrix(1 0 0.001 1 0 0)" x="511.86" y="38.60" text-anchor="middle" style="stroke:none" font-size="15.6">*</text>
<text transform="matrix(1 0 0.001 1 0 0)" x="294.93" y="173.20" text-anchor="middle" font-size="12.4">Peptide</text>
</g>
<g id="chartB">
<rect x="71.65" y="258.55" width="7.60" height="51.40" fill="#FFC000" stroke="#6f6433" stroke-width="0.8"/>
<rect x="81.30" y="287.80" width="7.70" height="22.10" fill="#002060" stroke="#1c2640" stroke-width="0.6"/>
<path d="M75.45 251.50V265.30M74.05 251.50h2.8M74.05 265.30h2.8" stroke="#6a6a6a" stroke-width="0.6" stroke-opacity="0.85" fill="none"/>
<path d="M85.15 285.60V289.80M83.75 285.60h2.8M83.75 289.80h2.8" stroke="#6a6a6a" stroke-width="0.6" stroke-opacity="0.85" fill="none"/>
<text transform="matrix(1 0 0.001 1 0 0)" x="79.98" y="323.20" text-anchor="middle" font-size="8">P30</text>
<rect x="106.12" y="260.15" width="7.60" height="49.80" fill="#FFC000" stroke="#6f6433" stroke-width="0.8"/>
<rect x="115.77" y="271.10" width="7.70" height="38.80" fill="#002060" stroke="#1c2640" stroke-width="0.6"/>
<path d="M109.92 251.30V268.70M108.52 251.30h2.8M108.52 268.70h2.8" stroke="#6a6a6a" stroke-width="0.6" stroke-opacity="0.85" fill="none"/>
<path d="M119.62 266.00V276.00M118.22 266.00h2.8M118.22 276.00h2.8" stroke="#6a6a6a" stroke-width="0.6" stroke-opacity="0.85" fill="none"/>
<text transform="matrix(1 0 0.001 1 0 0)" x="114.45" y="323.20" text-anchor="middle" font-size="8">P39</text>
<rect x="140.59" y="225.55" width="7.60" height="84.40" fill="#FFC000" stroke="#6f6433" stroke-width="0.8"/>
<rect x="150.24" y="287.50" width="7.70" height="22.40" fill="#002060" stroke="#1c2640" stroke-width="0.6"/>
<path d="M144.39 221.40V229.40M142.99 221.40h2.8M142.99 229.40h2.8" stroke="#6a6a6a" stroke-width="0.6" stroke-opacity="0.85" fill="none"/>
<path d="M154.09 285.00V289.80M152.69 285.00h2.8M152.69 289.80h2.8" stroke="#6a6a6a" stroke-width="0.6" stroke-opacity="0.85" fill="none"/>
<text transform="matrix(1 0 0.001 1 0 0)" x="148.92" y="323.20" text-anchor="middle" font-size="8">P47</text>
<rect x="175.06" y="267.55" width="7.60" height="42.40" fill="#FFC000" stroke="#6f6433" stroke-width="0.8"/>
<rect x="184.71" y="297.30" width="7.70" height="12.60" fill="#002060" stroke="#1c2640" stroke-width="0.6"/>
<path d="M178.86 255.90V278.90M177.46 255.90h2.8M177.46 278.90h2.8" stroke="#6a6a6a" stroke-width="0.6" stroke-opacity="0.85" fill="none"/>
<path d="M188.56 296.70V297.70M187.16 296.70h2.8M187.16 297.70h2.8" stroke="#6a6a6a" stroke-width="0.6" stroke-opacity="0.85" fill="none"/>
<text transform="matrix(1 0 0.001 1 0 0)" x="183.39" y="323.20" text-anchor="middle" font-size="8">P51</text>
<rect x="209.53" y="294.75" width="7.60" height="15.20" fill="#FFC000" stroke="#6f6433" stroke-width="0.8"/>
<rect x="219.18" y="301.50" width="7.70" height="8.40" fill="#002060" stroke="#1c2640" stroke-width="0.6"/>
<path d="M213.33 292.30V296.90M211.93 292.30h2.8M211.93 296.90h2.8" stroke="#6a6a6a" stroke-width="0.6" stroke-opacity="0.85" fill="none"/>
<path d="M223.03 301.00V301.80M221.63 301.00h2.8M221.63 301.80h2.8" stroke="#6a6a6a" stroke-width="0.6" stroke-opacity="0.85" fill="none"/>
<text transform="matrix(1 0 0.001 1 0 0)" x="217.86" y="323.20" text-anchor="middle" font-size="8">P65</text>
<rect x="244.00" y="233.35" width="7.60" height="76.60" fill="#FFC000" stroke="#6f6433" stroke-width="0.8"/>
<rect x="253.65" y="288.40" width="7.70" height="21.50" fill="#002060" stroke="#1c2640" stroke-width="0.6"/>
<path d="M247.80 226.50V239.90M246.40 226.50h2.8M246.40 239.90h2.8" stroke="#6a6a6a" stroke-width="0.6" stroke-opacity="0.85" fill="none"/>
<path d="M257.50 285.50V291.10M256.10 285.50h2.8M256.10 291.10h2.8" stroke="#6a6a6a" stroke-width="0.6" stroke-opacity="0.85" fill="none"/>
<text transform="matrix(1 0 0.001 1 0 0)" x="252.33" y="323.20" text-anchor="middle" font-size="8">P71</text>
<rect x="278.47" y="216.45" width="7.60" height="93.50" fill="#FFC000" stroke="#6f6433" stroke-width="0.8"/>
<rect x="288.12" y="283.30" width="7.70" height="26.60" fill="#002060" stroke="#1c2640" stroke-width="0.6"/>
<path d="M282.27 214.30V218.30M280.87 214.30h2.8M280.87 218.30h2.8" stroke="#6a6a6a" stroke-width="0.6" stroke-opacity="0.85" fill="none"/>
<path d="M291.97 279.20V287.20M290.57 279.20h2.8M290.57 287.20h2.8" stroke="#6a6a6a" stroke-width="0.6" stroke-opacity="0.85" fill="none"/>
<text transform="matrix(1 0 0.001 1 0 0)" x="286.80" y="323.20" text-anchor="middle" font-size="8">P73</text>
<rect x="312.94" y="274.25" width="7.60" height="35.70" fill="#FFC000" stroke="#6f6433" stroke-width="0.8"/>
<rect x="322.59" y="288.20" width="7.70" height="21.70" fill="#002060" stroke="#1c2640" stroke-width="0.6"/>
<path d="M316.74 271.00V277.20M315.34 271.00h2.8M315.34 277.20h2.8" stroke="#6a6a6a" stroke-width="0.6" stroke-opacity="0.85" fill="none"/>
<path d="M326.44 285.50V290.70M325.04 285.50h2.8M325.04 290.70h2.8" stroke="#6a6a6a" stroke-width="0.6" stroke-opacity="0.85" fill="none"/>
<text transform="matrix(1 0 0.001 1 0 0)" x="321.27" y="323.20" text-anchor="middle" font-size="8">P84</text>
<rect x="347.41" y="220.05" width="7.60" height="89.90" fill="#FFC000" stroke="#6f6433" stroke-width="0.8"/>
<rect x="357.06" y="286.40" width="7.70" height="23.50" fill="#002060" stroke="#1c2640" stroke-width="0.6"/>
<path d="M351.21 215.90V223.90M349.81 215.90h2.8M349.81 223.90h2.8" stroke="#6a6a6a" stroke-width="0.6" stroke-opacity="0.85" fill="none"/>
<path d="M360.91 283.20V289.40M359.51 283.20h2.8M359.51 289.40h2.8" stroke="#6a6a6a" stroke-width="0.6" stroke-opacity="0.85" fill="none"/>
<text transform="matrix(1 0 0.001 1 0 0)" x="355.74" y="323.20" text-anchor="middle" font-size="8">P97</text>
<rect x="381.88" y="221.15" width="7.60" height="88.80" fill="#FFC000" stroke="#6f6433" stroke-width="0.8"/>
<rect x="391.53" y="285.10" width="7.70" height="24.80" fill="#002060" stroke="#1c2640" stroke-width="0.6"/>
<path d="M385.68 216.80V225.20M384.28 216.80h2.8M384.28 225.20h2.8" stroke="#6a6a6a" stroke-width="0.6" stroke-opacity="0.85" fill="none"/>
<path d="M395.38 281.90V288.10M393.98 281.90h2.8M393.98 288.10h2.8" stroke="#6a6a6a" stroke-width="0.6" stroke-opacity="0.85" fill="none"/>
<text transform="matrix(1 0 0.001 1 0 0)" x="390.21" y="323.20" text-anchor="middle" font-size="8">P98</text>
<rect x="416.35" y="224.65" width="7.60" height="85.30" fill="#FFC000" stroke="#6f6433" stroke-width="0.8"/>
<rect x="426.00" y="288.40" width="7.70" height="21.50" fill="#002060" stroke="#1c2640" stroke-width="0.6"/>
<path d="M420.15 219.20V229.80M418.75 219.20h2.8M418.75 229.80h2.8" stroke="#6a6a6a" stroke-width="0.6" stroke-opacity="0.85" fill="none"/>
<path d="M429.85 285.00V291.60M428.45 285.00h2.8M428.45 291.60h2.8" stroke="#6a6a6a" stroke-width="0.6" stroke-opacity="0.85" fill="none"/>
<text transform="matrix(1 0 0.001 1 0 0)" x="424.68" y="323.20" text-anchor="middle" font-size="8">P106</text>
<rect x="450.82" y="272.75" width="7.60" height="37.20" fill="#FFC000" stroke="#6f6433" stroke-width="0.8"/>
<rect x="460.47" y="298.20" width="7.70" height="11.70" fill="#002060" stroke="#1c2640" stroke-width="0.6"/>
<path d="M454.62 263.20V282.00M453.22 263.20h2.8M453.22 282.00h2.8" stroke="#6a6a6a" stroke-width="0.6" stroke-opacity="0.85" fill="none"/>
<path d="M464.32 297.60V298.60M462.92 297.60h2.8M462.92 298.60h2.8" stroke="#6a6a6a" stroke-width="0.6" stroke-opacity="0.85" fill="none"/>
<text transform="matrix(1 0 0.001 1 0 0)" x="459.15" y="323.20" text-anchor="middle" font-size="8">P107</text>
<rect x="485.29" y="217.55" width="7.60" height="92.40" fill="#FFC000" stroke="#6f6433" stroke-width="0.8"/>
<rect x="494.94" y="265.10" width="7.70" height="44.80" fill="#002060" stroke="#1c2640" stroke-width="0.6"/>
<path d="M489.09 216.30V218.50M487.69 216.30h2.8M487.69 218.50h2.8" stroke="#6a6a6a" stroke-width="0.6" stroke-opacity="0.85" fill="none"/>
<path d="M498.79 263.70V266.30M497.39 263.70h2.8M497.39 266.30h2.8" stroke="#6a6a6a" stroke-width="0.6" stroke-opacity="0.85" fill="none"/>
<text transform="matrix(1 0 0.001 1 0 0)" x="493.62" y="323.20" text-anchor="middle" font-size="8">P108</text>
<rect x="519.76" y="272.75" width="7.60" height="37.20" fill="#FFC000" stroke="#6f6433" stroke-width="0.8"/>
<rect x="529.41" y="298.60" width="7.70" height="11.30" fill="#002060" stroke="#1c2640" stroke-width="0.6"/>
<path d="M523.56 264.10V281.10M522.16 264.10h2.8M522.16 281.10h2.8" stroke="#6a6a6a" stroke-width="0.6" stroke-opacity="0.85" fill="none"/>
<path d="M533.26 297.70V299.30M531.86 297.70h2.8M531.86 299.30h2.8" stroke="#6a6a6a" stroke-width="0.6" stroke-opacity="0.85" fill="none"/>
<text transform="matrix(1 0 0.001 1 0 0)" x="528.09" y="323.20" text-anchor="middle" font-size="8">P119</text>
<text transform="matrix(1 0 0.001 1 0 0)" x="83.98" y="222.60" text-anchor="middle" style="stroke:none" font-size="15.6">*</text>
<text transform="matrix(1 0 0.001 1 0 0)" x="153.18" y="222.60" text-anchor="middle" style="stroke:none" font-size="15.6">*</text>
<text transform="matrix(1 0 0.001 1 0 0)" x="218.18" y="222.60" text-anchor="middle" style="stroke:none" font-size="15.6">*</text>
<text transform="matrix(1 0 0.001 1 0 0)" x="254.98" y="222.60" text-anchor="middle" style="stroke:none" font-size="15.6">*</text>
<text transform="matrix(1 0 0.001 1 0 0)" x="292.68" y="222.60" text-anchor="middle" style="stroke:none" font-size="15.6">*</text>
<text transform="matrix(1 0 0.001 1 0 0)" x="322.88" y="222.60" text-anchor="middle" style="stroke:none" font-size="15.6">*</text>
<text transform="matrix(1 0 0.001 1 0 0)" x="360.38" y="222.60" text-anchor="middle" style="stroke:none" font-size="15.6">*</text>
<text transform="matrix(1 0 0.001 1 0 0)" x="397.28" y="222.60" text-anchor="middle" style="stroke:none" font-size="15.6">*</text>
<text transform="matrix(1 0 0.001 1 0 0)" x="434.78" y="222.60" text-anchor="middle" style="stroke:none" font-size="15.6">*</text>
<text transform="matrix(1 0 0.001 1 0 0)" x="499.48" y="222.60" text-anchor="middle" style="stroke:none" font-size="15.6">*</text>
<path d="M62.7 185.3V310.6" stroke="#000" stroke-width="1.4" fill="none"/><path d="M62 309.75H545.3" stroke="#000" stroke-width="1.7" fill="none"/>
<path d="M60.1 309.8H62.2" stroke="#000" stroke-width="1.1"/>
<text transform="matrix(1 0 0.001 1 0 0)" x="55.49" y="312.90" text-anchor="end" font-size="8.6">0</text>
<path d="M60.1 289.2H62.2" stroke="#000" stroke-width="1.1"/>
<text transform="matrix(1 0 0.001 1 0 0)" x="55.51" y="292.25" text-anchor="end" font-size="8.6">0.5</text>
<path d="M60.1 268.5H62.2" stroke="#000" stroke-width="1.1"/>
<text transform="matrix(1 0 0.001 1 0 0)" x="55.53" y="271.60" text-anchor="end" font-size="8.6">1</text>
<path d="M60.1 247.9H62.2" stroke="#000" stroke-width="1.1"/>
<text transform="matrix(1 0 0.001 1 0 0)" x="55.55" y="250.95" text-anchor="end" font-size="8.6">1.5</text>
<path d="M60.1 227.2H62.2" stroke="#000" stroke-width="1.1"/>
<text transform="matrix(1 0 0.001 1 0 0)" x="55.57" y="230.30" text-anchor="end" font-size="8.6">2</text>
<path d="M60.1 206.6H62.2" stroke="#000" stroke-width="1.1"/>
<text transform="matrix(1 0 0.001 1 0 0)" x="55.59" y="209.65" text-anchor="end" font-size="8.6">2.5</text>
<path d="M60.1 185.9H62.2" stroke="#000" stroke-width="1.1"/>
<text transform="matrix(1 0 0.001 1 0 0)" x="55.61" y="189.00" text-anchor="end" font-size="8.6">3</text>
<text transform="matrix(1 0 0.001 1 0 0)" x="2.61" y="187.40" font-size="16.3">B</text>
<text transform="translate(24.40 317.30) rotate(-90)" font-size="10.1">Antibody</text>
<text transform="translate(24.40 269.40) rotate(-90)" font-size="10.1">binding</text>
<text transform="translate(24.40 229.60) rotate(-90)" font-size="10.1">(OD</text>
<text transform="translate(26.30 204.90) rotate(-90)" font-size="6.5">405</text>
<text transform="translate(24.40 194.00) rotate(-90)" font-size="10.1">)</text>
<rect x="74.8" y="186.5" width="5.0" height="5.2" fill="#FFC000" stroke="#6a5a25" stroke-width="0.9"/>
<rect x="74.9" y="198.7" width="4.9" height="5.1" fill="#002060" stroke="#30364a" stroke-width="0.9"/>
<text transform="matrix(1 0 0.001 1 0 0)" x="82.81" y="192.80" font-size="11">Control</text>
<text transform="matrix(1 0 0.001 1 0 0)" x="82.80" y="204.90" font-size="11">Vaccine</text>
<text transform="matrix(1 0 0.001 1 0 0)" x="289.86" y="336.30" text-anchor="middle" font-size="12.4">Peptide</text>
</g>
</svg></body></html>
